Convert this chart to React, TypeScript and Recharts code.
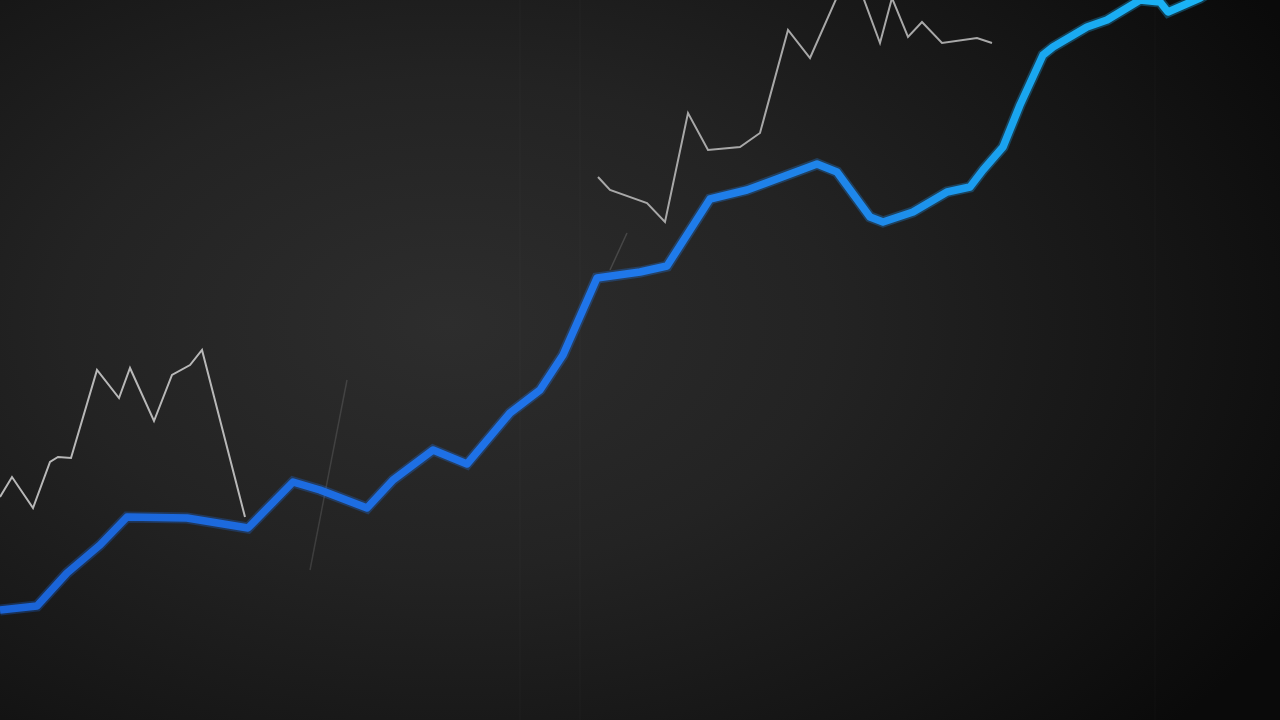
import { LineChart, Line, XAxis, YAxis, CartesianGrid } from 'recharts';

// x = trading day position, y = price level (0 at the bottom of the frame)
const mainDays = [0, 37, 67, 100, 127, 187, 248, 293, 320, 367, 393, 433, 467, 510, 540, 563, 597, 640, 667, 710, 747, 817, 837, 870, 883, 913, 947, 970, 983, 1003, 1020, 1043, 1053, 1087, 1107, 1140, 1160, 1168, 1200, 1230];
const mainPrices = [110, 114, 147, 175, 203, 202, 192, 238, 230, 212, 240, 270, 256, 307, 330, 365, 442, 448, 454, 521, 530, 556, 548, 503, 498, 508, 528, 533, 550, 573, 615, 665, 673, 693, 700, 720, 718, 708, 722, 740];

const ghostLeftDays = [0, 12, 33, 50, 58, 71, 97, 119, 130, 154, 172, 190, 202, 245];
const ghostLeftPrices = [223, 243, 212, 258, 263, 262, 350, 322, 352, 299, 345, 355, 370, 203];

const ghostRightDays = [598, 610, 647, 665, 688, 708, 740, 760, 788, 810, 837, 850, 863, 880, 892, 908, 922, 942, 977, 992];
const ghostRightPrices = [543, 530, 517, 498, 607, 570, 573, 587, 690, 662, 723, 745, 723, 677, 722, 683, 698, 677, 682, 677];

const faintADays = [310, 347];
const faintAPrices = [150, 340];
const faintBDays = [610, 627];
const faintBPrices = [450, 487];

const toRows = (days: number[], prices: number[]) => days.map((d, i) => ({ day: d, price: prices[i] }));

const mainData = toRows(mainDays, mainPrices);
const ghostLeft = toRows(ghostLeftDays, ghostLeftPrices);
const ghostRight = toRows(ghostRightDays, ghostRightPrices);
const faintA = toRows(faintADays, faintAPrices);
const faintB = toRows(faintBDays, faintBPrices);

export default function App() {
  return (
    <div
      style={{
        position: 'absolute',
        top: 0,
        left: 0,
        width: 1280,
        height: 720,
        overflow: 'hidden',
        background: 'radial-gradient(ellipse 75% 85% at 35% 45%, #2d2d2d 0%, #232323 40%, #151515 75%, #0a0a0a 100%)',
      }}
    >
      <LineChart width={1280} height={720} margin={{ top: 0, right: 0, bottom: 0, left: 0 }}>
        <defs>
          <linearGradient id="blueStroke" x1="0" y1="0" x2="1280" y2="0" gradientUnits="userSpaceOnUse">
            <stop offset="0%" stopColor="#1a63d6" />
            <stop offset="45%" stopColor="#1f74ea" />
            <stop offset="68%" stopColor="#1e88ea" />
            <stop offset="80%" stopColor="#19a6f0" />
            <stop offset="100%" stopColor="#1bbaf8" />
          </linearGradient>
        </defs>
        <CartesianGrid stroke="rgba(255,255,255,0.025)" horizontal={false} verticalPoints={[520, 580, 1155]} />
        <XAxis type="number" dataKey="day" domain={[0, 1280]} hide allowDataOverflow />
        <YAxis type="number" dataKey="price" domain={[0, 720]} hide allowDataOverflow />
        <Line data={faintA} dataKey="price" stroke="rgba(255,255,255,0.12)" strokeWidth={1.5} dot={false} activeDot={false} isAnimationActive={false} />
        <Line data={faintB} dataKey="price" stroke="rgba(255,255,255,0.15)" strokeWidth={1.5} dot={false} activeDot={false} isAnimationActive={false} />
        <Line data={ghostLeft} dataKey="price" stroke="#b8b8b8" strokeWidth={2} dot={false} activeDot={false} isAnimationActive={false} />
        <Line data={ghostRight} dataKey="price" stroke="#a8a8a8" strokeWidth={2} dot={false} activeDot={false} isAnimationActive={false} />
        <Line data={mainData} dataKey="price" stroke="url(#blueStroke)" strokeOpacity={0.3} strokeWidth={11} dot={false} activeDot={false} isAnimationActive={false} />
        <Line data={mainData} dataKey="price" stroke="url(#blueStroke)" strokeWidth={7.5} strokeLinejoin="round" dot={false} activeDot={false} isAnimationActive={false} />
      </LineChart>
    </div>
  );
}
